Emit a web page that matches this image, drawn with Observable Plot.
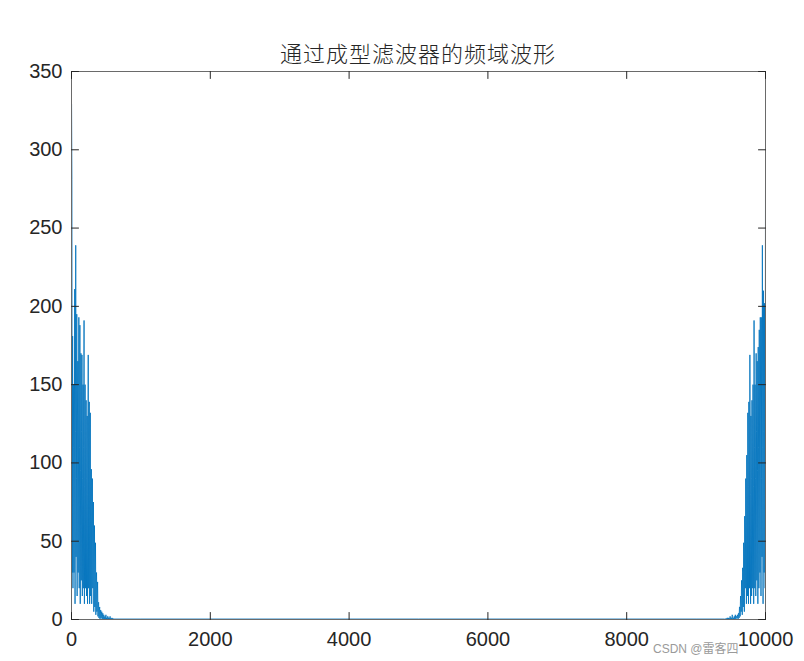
<!DOCTYPE html>
<html>
<head>
<meta charset="utf-8">
<script src="https://cdn.jsdelivr.net/npm/d3@7"></script>
<script src="https://cdn.jsdelivr.net/npm/@observablehq/plot@0.6"></script>
<style>
  html, body { margin: 0; padding: 0; background: #fff; }
  #wrap { position: relative; width: 804px; height: 661px; }
  #title { position: absolute; left: 71px; width: 694px; top: 38px; text-align: center;
    font-family: "Noto Sans CJK SC", sans-serif; font-size: 22px; font-weight: 300; letter-spacing: 1px; color: #262626; line-height: 28px; }
  #mark { position: absolute; left: 653px; top: 643px; font-family: "Liberation Sans", Arial, "Noto Sans CJK SC", sans-serif;
    font-size: 12px; line-height: 13px; color: #9a9a9a; white-space: nowrap; }
</style>
</head>
<body>
<div id="wrap">
  <div id="chart"></div>
  <div id="title">通过成型滤波器的频域波形</div>
  <div id="mark">CSDN @雷客四</div>
</div>
<script>
// ---- data ----
const titleText = "通过成型滤波器的频域波形";
const xTicks = [0, 2000, 4000, 6000, 8000, 10000];
const yTicks = [0, 50, 100, 150, 200, 250, 300, 350];
const binStep = 5;           // sample spacing of the listed bins
const leftStartBin = 1;      // first listed bin of the low-frequency band
const rightEndBin = 10000;   // last listed bin of the mirrored band

// magnitudes of the low band, bins 1, 6, 11, ...
const leftMag = [
  329, 281, 30,  181, 20, 110,  150, 30, 100,  211, 10, 120,  239, 40, 90,
  195, 15, 130,  165, 30, 100,  193, 20, 110,  188, 10, 95,   170, 25, 120,
  169, 15, 90,   150, 20, 110,  191, 10, 85,   150, 20, 100,  140, 15, 90,
  130, 10, 80,   169, 20, 95,   139, 10, 85,   132, 15, 70,   96, 10, 60,
  90, 20, 50,    75, 5, 40,     60, 8, 30,     49, 3, 25,     30, 5, 15,
  24, 2, 10,     11, 1, 6,      8, 0, 4,       6, 1, 3,       5, 0, 2,
  4, 0, 2,       3, 0, 1,       2, 0, 1,       3, 0, 1,       1, 0, 2,
  2, 0, 1,       1, 0, 1,       2, 0, 0.5,     1, 0, 0.5,     1, 0, 0.5,
  0.5, 0, 0.5,   0.5, 0, 0.3
];
// magnitudes of the high band, read from the right edge leftwards: bins 10000, 9995, 9990, ...
const rightMagFromEdge = [
  281, 20, 100,  202, 30, 120,  210, 10, 110,  239, 40, 90,   193, 15, 130,
  193, 30, 100,  185, 20, 110,  174, 10, 95,   165, 25, 120,  170, 15, 90,
  150, 20, 110,  191, 10, 85,   150, 20, 100,  140, 15, 90,   130, 10, 80,
  169, 20, 95,   139, 10, 85,   132, 15, 70,   105, 10, 60,   90, 20, 50,
  66, 5, 40,     49, 8, 30,     33, 3, 20,     25, 5, 12,     15, 2, 8,
  8, 1, 4,       4, 0, 2,       3, 1, 2,       2, 0, 1,       3, 0, 1,
  2, 0, 1,       1, 0, 2,       3, 0, 1,       1, 0, 1,       2, 0, 0.5,
  1, 0, 1,       0.5, 0, 1,     1, 0, 0.5,     0.5, 0, 0.5,   0.5, 0, 0.3
];
// flat, near-zero stop band between the two lobes
const stopBandBins = [1000, 5000, 9000];
const stopBandMag = [0.3, 0.3, 0.3];

// ---- table ----
const rows = [];
leftMag.forEach((m, i) => rows.push({bin: leftStartBin + i * binStep, mag: m}));
stopBandBins.forEach((b, i) => rows.push({bin: b, mag: stopBandMag[i]}));
rightMagFromEdge.forEach((m, i) => rows.push({bin: rightEndBin - i * binStep, mag: m}));
rows.sort((a, b) => a.bin - b.bin);

const tickShape = {draw(ctx, l) { ctx.moveTo(0, 0); ctx.lineTo(0, -l); }};
const tickLen = 7;
const ink = "#262626";

const chart = Plot.plot({
  width: 804,
  height: 661,
  marginLeft: 71,
  marginRight: 39,
  marginTop: 71,
  marginBottom: 42,
  style: {fontFamily: "'Liberation Sans', Arial, sans-serif", fontSize: "20px", color: ink, background: "#fff"},
  x: {domain: [0, 10000], ticks: xTicks},
  y: {domain: [0, 350], ticks: yTicks},
  marks: [
    Plot.line(rows, {x: "bin", y: "mag", stroke: "#0072BD", strokeWidth: 0.85}),
    Plot.frame({stroke: "#6a6a6a", strokeWidth: 1}),
    Plot.axisY(yTicks, {anchor: "left", tickSize: 0, tickPadding: 9, fontSize: 20, fill: ink, label: null, tickFormat: d => String(d)}),
    Plot.axisX(xTicks, {anchor: "bottom", tickSize: 0, tickPadding: 12, fontSize: 20, fill: ink, label: null, tickFormat: d => String(d)}),
    Plot.vector(yTicks, {x: 0, y: d => d, length: tickLen, rotate: 90, anchor: "start", shape: tickShape, stroke: ink, strokeWidth: 1}),
    Plot.vector(yTicks, {x: 10000, y: d => d, length: tickLen, rotate: 270, anchor: "start", shape: tickShape, stroke: ink, strokeWidth: 1}),
    Plot.vector(xTicks, {x: d => d, y: 0, length: tickLen, rotate: 0, anchor: "start", shape: tickShape, stroke: ink, strokeWidth: 1}),
    Plot.vector(xTicks, {x: d => d, y: 350, length: tickLen, rotate: 180, anchor: "start", shape: tickShape, stroke: ink, strokeWidth: 1})
  ]
});
document.getElementById("chart").appendChild(chart);
document.getElementById("title").textContent = titleText;
</script>
</body>
</html>
